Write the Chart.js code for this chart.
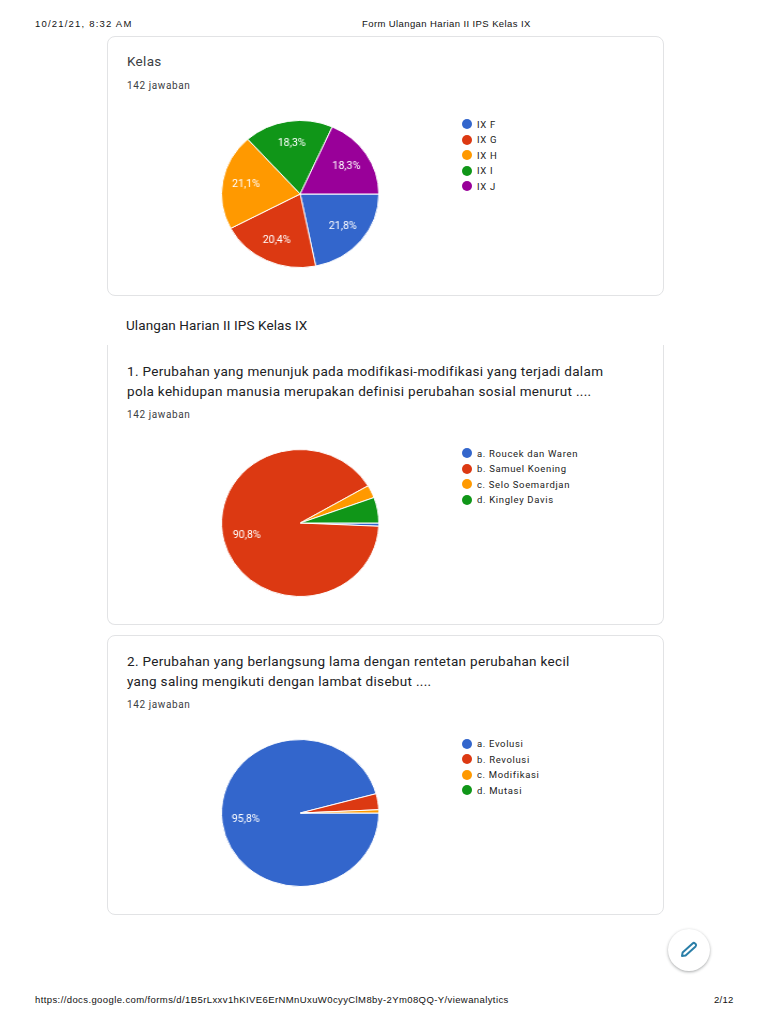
<!DOCTYPE html>
<html>
<head>
<meta charset="utf-8">
<title>Form Ulangan Harian II IPS Kelas IX</title>
<script src="https://cdn.jsdelivr.net/npm/chart.js@4/dist/chart.umd.min.js"></script>
<style>
  html, body { margin: 0; padding: 0; background: #fff; }
  body { position: relative; width: 768px; height: 1024px; overflow: hidden; font-family: Roboto, sans-serif; color: #202124; }
  .abs { position: absolute; white-space: nowrap; }
  .print { font: 9.5px "Liberation Sans", sans-serif; color: #111; letter-spacing: .4px; }
  .card { position: absolute; left: 107px; width: 557px; box-sizing: border-box; border: 1px solid #e2e3e5; border-radius: 8px; background: #fff; }
  .open { border-top: 0; border-radius: 0 0 8px 8px; }
  .title { font-size: 13.5px; line-height: 20px; color: #202124; letter-spacing: .32px; }
  .count { font-size: 10px; color: #3c4043; letter-spacing: .6px; }
  canvas.pie { position: absolute; left: 220.7px; transform-origin: 0 0; transform: scaleX(1.07); }
  .legend { position: absolute; left: 462px; font-size: 9.5px; color: #222; letter-spacing: .65px; }
  .legend div { height: 15.5px; line-height: 15.5px; white-space: nowrap; }
  .legend i { display: inline-block; width: 10px; height: 10px; border-radius: 50%; margin-right: 5px; vertical-align: -1.5px; }
  #fab { position: absolute; left: 668px; top: 929px; width: 42px; height: 42px; border-radius: 50%; background: #fff; box-shadow: 0 1px 3px rgba(60,64,67,.45); }
</style>
</head>
<body>
<div class="abs print" style="left:35px;top:18px;letter-spacing:1.2px">10/21/21, 8:32 AM</div>
<div class="abs print" style="left:362px;top:18px">Form Ulangan Harian II IPS Kelas IX</div>

<div class="card" style="top:36px;height:260px"></div>
<div class="abs title" style="left:127px;top:51px;color:#3c4043">Kelas</div>
<div class="abs count" style="left:127px;top:80px">142 jawaban</div>

<div class="abs title" style="left:126px;top:315px;letter-spacing:.1px">Ulangan Harian II IPS Kelas IX</div>

<div class="card open" style="top:345px;height:280px"></div>
<div class="abs title" style="left:127px;top:361px">1. Perubahan yang menunjuk pada modifikasi-modifikasi yang terjadi dalam<br>pola kehidupan manusia merupakan definisi perubahan sosial menurut ....</div>
<div class="abs count" style="left:127px;top:409px">142 jawaban</div>

<div class="card" style="top:635px;height:280px"></div>
<div class="abs title" style="left:127px;top:651px">2. Perubahan yang berlangsung lama dengan rentetan perubahan kecil<br>yang saling mengikuti dengan lambat disebut ....</div>
<div class="abs count" style="left:127px;top:699px">142 jawaban</div>

<canvas class="pie" id="pieKelas" width="148" height="148" style="top:119.5px"></canvas>
<canvas class="pie" id="pieQ1" width="148" height="148" style="top:448.5px"></canvas>
<canvas class="pie" id="pieQ2" width="148" height="148" style="top:739px"></canvas>

<div class="legend" id="legendKelas" style="top:116.6px"></div>
<div class="legend" id="legendQ1" style="top:445.7px"></div>
<div class="legend" id="legendQ2" style="top:736.3px"></div>

<div id="fab">
  <svg width="42" height="42" viewBox="0 0 42 42"><path d="M14 27 L14.6 23.6 L24.6 14.4 Q25.8 13.4 27 14.4 L27.6 15 Q28.6 16.2 27.6 17.4 L17.6 26.6 Z" fill="none" stroke="#2b7fa8" stroke-width="2" stroke-linejoin="round"/></svg>
</div>

<div class="abs print" style="left:35px;top:994px">https://docs.google.com/forms/d/1B5rLxxv1hKIVE6ErNMnUxuW0cyyClM8by-2Ym08QQ-Y/viewanalytics</div>
<div class="abs print" style="left:714px;top:994px;letter-spacing:.25px">2/12</div>

<script>
const COLORS = ['#3366cc', '#dc3912', '#ff9900', '#109618', '#990099']

const kelasLabels = ['IX F', 'IX G', 'IX H', 'IX I', 'IX J']
const kelasValues = [31, 29, 30, 26, 26]

const q1Labels = ['a. Roucek dan Waren', 'b. Samuel Koening', 'c. Selo Soemardjan', 'd. Kingley Davis']
const q1Values = [1, 129, 4, 8]

const q2Labels = ['a. Evolusi', 'b. Revolusi', 'c. Modifikasi', 'd. Mutasi']
const q2Values = [136, 5, 1, 0]

// percent inside the slice, comma decimals like the form summary
const sliceLabels = {
  id: 'sliceLabels',
  afterDatasetsDraw(chart) {
    const ctx = chart.ctx
    const data = chart.data.datasets[0].data
    const total = data.reduce((a, b) => a + b, 0)
    chart.getDatasetMeta(0).data.forEach((arc, i) => {
      const share = data[i] / total
      if (share < 0.1) return
      const mid = (arc.startAngle + arc.endAngle) / 2
      const r = arc.outerRadius * 0.7
      ctx.save()
      ctx.font = '10px Roboto, sans-serif'
      ctx.fillStyle = '#fff'
      ctx.textAlign = 'center'
      ctx.textBaseline = 'middle'
      ctx.fillText((share * 100).toFixed(1).replace('.', ',') + '%', arc.x + Math.cos(mid) * r, arc.y + Math.sin(mid) * r)
      ctx.restore()
    })
  },
}

function drawPie(id, labels, values) {
  new Chart(document.getElementById(id), {
    type: 'pie',
    data: {
      labels,
      datasets: [{ data: values, backgroundColor: COLORS.slice(0, labels.length), borderColor: '#fff', borderWidth: 1 }],
    },
    options: {
      responsive: false,
      animation: false,
      rotation: 90,
      layout: { padding: 0 },
      plugins: { legend: { display: false }, tooltip: { enabled: false } },
    },
    plugins: [sliceLabels],
  })
}

function drawLegend(id, labels) {
  const box = document.getElementById(id)
  labels.forEach((label, i) => {
    const row = document.createElement('div')
    const dot = document.createElement('i')
    dot.style.background = COLORS[i]
    row.appendChild(dot)
    row.appendChild(document.createTextNode(label))
    box.appendChild(row)
  })
}

drawPie('pieKelas', kelasLabels, kelasValues)
drawPie('pieQ1', q1Labels, q1Values)
drawPie('pieQ2', q2Labels, q2Values)
drawLegend('legendKelas', kelasLabels)
drawLegend('legendQ1', q1Labels)
drawLegend('legendQ2', q2Labels)
</script>
</body>
</html>
